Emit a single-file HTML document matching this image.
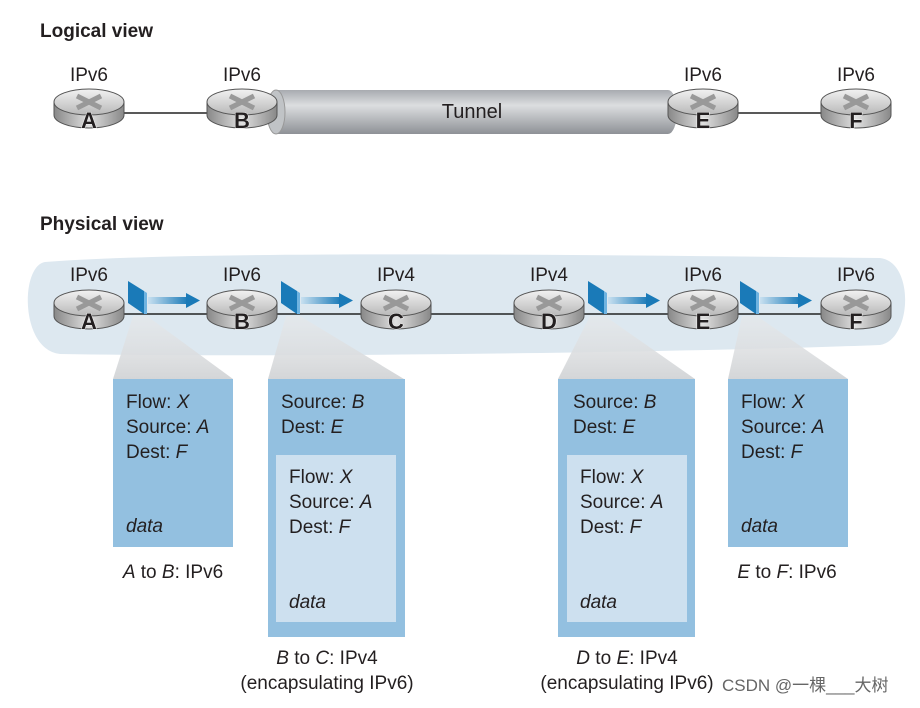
<!DOCTYPE html>
<html><head><meta charset="utf-8"><style>
body{margin:0;background:#fff}
svg text{font-family:"Liberation Sans",sans-serif;fill:#231f20}
</style></head><body>
<svg width="920" height="703" viewBox="0 0 920 703" xmlns="http://www.w3.org/2000/svg">
<defs>
<linearGradient id="rg" x1="0" y1="0" x2="0" y2="1"><stop offset="0" stop-color="#f2f2f2"/><stop offset="1" stop-color="#b8b8b8"/></linearGradient>
<linearGradient id="rs" x1="0" y1="0" x2="1" y2="0"><stop offset="0" stop-color="#888"/><stop offset="0.5" stop-color="#e0e0e0"/><stop offset="1" stop-color="#888"/></linearGradient>
<linearGradient id="tg" x1="0" y1="0" x2="0" y2="1"><stop offset="0" stop-color="#a8abb0"/><stop offset="0.35" stop-color="#dcdee0"/><stop offset="1" stop-color="#8e9196"/></linearGradient>
<linearGradient id="ag" x1="0" y1="0" x2="1" y2="0"><stop offset="0" stop-color="#c8e0f0"/><stop offset="1" stop-color="#1a7ab8"/></linearGradient>
<linearGradient id="trg" x1="0" y1="0" x2="0" y2="1"><stop offset="0" stop-color="#e6e8ea" stop-opacity="0.7"/><stop offset="1" stop-color="#d4d6d8"/></linearGradient>
<g id="r">
<path d="M-35,0 v13 a35,13 0 0 0 70,0 v-13 z" fill="url(#rs)" stroke="#555" stroke-width="1"/>
<ellipse cx="0" cy="0" rx="35" ry="13" fill="url(#rg)" stroke="#555" stroke-width="1"/>
<path d="M-12,-6 L12,6 M-12,6 L12,-6" stroke="#999" stroke-width="5"/>
</g>
<g id="pk">
<polygon points="0,0 16,10 16,33 0,22" fill="#1a7ab8"/>
<polygon points="16,10 19,12 19,33 16,33" fill="#6fb3e0"/>
</g>
</defs>
<text x="40" y="37" font-size="19" font-weight="bold">Logical view</text>
<text x="40" y="230" font-size="19" font-weight="bold">Physical view</text>
<!-- logical -->
<line x1="89" y1="113" x2="242" y2="113" stroke="#222" stroke-width="1.5"/>
<line x1="703" y1="113" x2="856" y2="113" stroke="#222" stroke-width="1.5"/>
<rect x="276" y="90" width="392" height="44" fill="url(#tg)"/>
<ellipse cx="276" cy="112" rx="9" ry="22" fill="#c0c3c6" stroke="#999"/>
<ellipse cx="668" cy="112" rx="9" ry="22" fill="url(#tg)"/>
<text x="472" y="118" font-size="20" text-anchor="middle">Tunnel</text>
<g font-size="19" text-anchor="middle">
<text x="89" y="81">IPv6</text><text x="242" y="81">IPv6</text><text x="703" y="81">IPv6</text><text x="856" y="81">IPv6</text>
</g>
<use href="#r" x="89" y="102"/><use href="#r" x="242" y="102"/><use href="#r" x="703" y="102"/><use href="#r" x="856" y="102"/>
<g font-size="22" font-weight="bold" text-anchor="middle" stroke="#fff" stroke-width="0.8" paint-order="stroke">
<text x="89" y="128">A</text><text x="242" y="128">B</text><text x="703" y="128">E</text><text x="856" y="128">F</text>
</g>
<!-- physical -->
<path d="M45,262 C200,250 600,255 880,258 C915,262 912,340 880,345 C700,352 300,358 60,354 C20,350 20,266 45,262 Z" fill="#dde8f0"/>
<line x1="89" y1="314" x2="856" y2="314" stroke="#222" stroke-width="1.5"/>
<polygon points="133,316 147,316 233,379 113,379" fill="url(#trg)"/>
<polygon points="286,316 300,316 404,379 268,379" fill="url(#trg)"/>
<polygon points="590,316 605,316 695,379 558,379" fill="url(#trg)"/>
<polygon points="742,316 757,316 848,379 728,379" fill="url(#trg)"/>
<g font-size="19" text-anchor="middle">
<text x="89" y="281">IPv6</text><text x="242" y="281">IPv6</text><text x="396" y="281">IPv4</text><text x="549" y="281">IPv4</text><text x="703" y="281">IPv6</text><text x="856" y="281">IPv6</text>
</g>
<use href="#pk" x="128" y="281"/><use href="#pk" x="281" y="281"/><use href="#pk" x="588" y="281"/><use href="#pk" x="740" y="281"/>
<g>
<rect x="148" y="297" width="40" height="7" fill="url(#ag)"/><polygon points="186,293 200,300.5 186,308" fill="#1a7ab8"/>
<rect x="301" y="297" width="40" height="7" fill="url(#ag)"/><polygon points="339,293 353,300.5 339,308" fill="#1a7ab8"/>
<rect x="608" y="297" width="40" height="7" fill="url(#ag)"/><polygon points="646,293 660,300.5 646,308" fill="#1a7ab8"/>
<rect x="760" y="297" width="40" height="7" fill="url(#ag)"/><polygon points="798,293 812,300.5 798,308" fill="#1a7ab8"/>
</g>
<use href="#r" x="89" y="303"/><use href="#r" x="242" y="303"/><use href="#r" x="396" y="303"/><use href="#r" x="549" y="303"/><use href="#r" x="703" y="303"/><use href="#r" x="856" y="303"/>
<g font-size="22" font-weight="bold" text-anchor="middle" stroke="#fff" stroke-width="0.8" paint-order="stroke">
<text x="89" y="329">A</text><text x="242" y="329">B</text><text x="396" y="329">C</text><text x="549" y="329">D</text><text x="703" y="329">E</text><text x="856" y="329">F</text>
</g>
<!-- boxes -->
<rect x="113" y="379" width="120" height="168" fill="#93c0e0"/>
<rect x="268" y="379" width="137" height="258" fill="#93c0e0"/>
<rect x="276" y="455" width="120" height="167" fill="#cde0ef"/>
<rect x="558" y="379" width="137" height="258" fill="#93c0e0"/>
<rect x="567" y="455" width="120" height="167" fill="#cde0ef"/>
<rect x="728" y="379" width="120" height="168" fill="#93c0e0"/>
<g font-size="19">
<text x="126" y="408">Flow: <tspan font-style="italic">X</tspan></text>
<text x="126" y="433">Source: <tspan font-style="italic">A</tspan></text>
<text x="126" y="458">Dest: <tspan font-style="italic">F</tspan></text>
<text x="126" y="532" font-style="italic">data</text>
<text x="281" y="408">Source: <tspan font-style="italic">B</tspan></text>
<text x="281" y="433">Dest: <tspan font-style="italic">E</tspan></text>
<text x="289" y="483">Flow: <tspan font-style="italic">X</tspan></text>
<text x="289" y="508">Source: <tspan font-style="italic">A</tspan></text>
<text x="289" y="533">Dest: <tspan font-style="italic">F</tspan></text>
<text x="289" y="608" font-style="italic">data</text>
<text x="573" y="408">Source: <tspan font-style="italic">B</tspan></text>
<text x="573" y="433">Dest: <tspan font-style="italic">E</tspan></text>
<text x="580" y="483">Flow: <tspan font-style="italic">X</tspan></text>
<text x="580" y="508">Source: <tspan font-style="italic">A</tspan></text>
<text x="580" y="533">Dest: <tspan font-style="italic">F</tspan></text>
<text x="580" y="608" font-style="italic">data</text>
<text x="741" y="408">Flow: <tspan font-style="italic">X</tspan></text>
<text x="741" y="433">Source: <tspan font-style="italic">A</tspan></text>
<text x="741" y="458">Dest: <tspan font-style="italic">F</tspan></text>
<text x="741" y="532" font-style="italic">data</text>
</g>
<g font-size="19" text-anchor="middle">
<text x="173" y="578"><tspan font-style="italic">A</tspan> to <tspan font-style="italic">B</tspan>: IPv6</text>
<text x="787" y="578"><tspan font-style="italic">E</tspan> to <tspan font-style="italic">F</tspan>: IPv6</text>
<text x="327" y="664"><tspan font-style="italic">B</tspan> to <tspan font-style="italic">C</tspan>: IPv4</text>
<text x="327" y="689">(encapsulating IPv6)</text>
<text x="627" y="664"><tspan font-style="italic">D</tspan> to <tspan font-style="italic">E</tspan>: IPv4</text>
<text x="627" y="689">(encapsulating IPv6)</text>
</g>
<text x="722" y="691" font-size="17" style="fill:#666;font-family:'Liberation Sans','Noto Sans CJK SC',sans-serif">CSDN @一棵___大树</text>
</svg>
</body></html>
